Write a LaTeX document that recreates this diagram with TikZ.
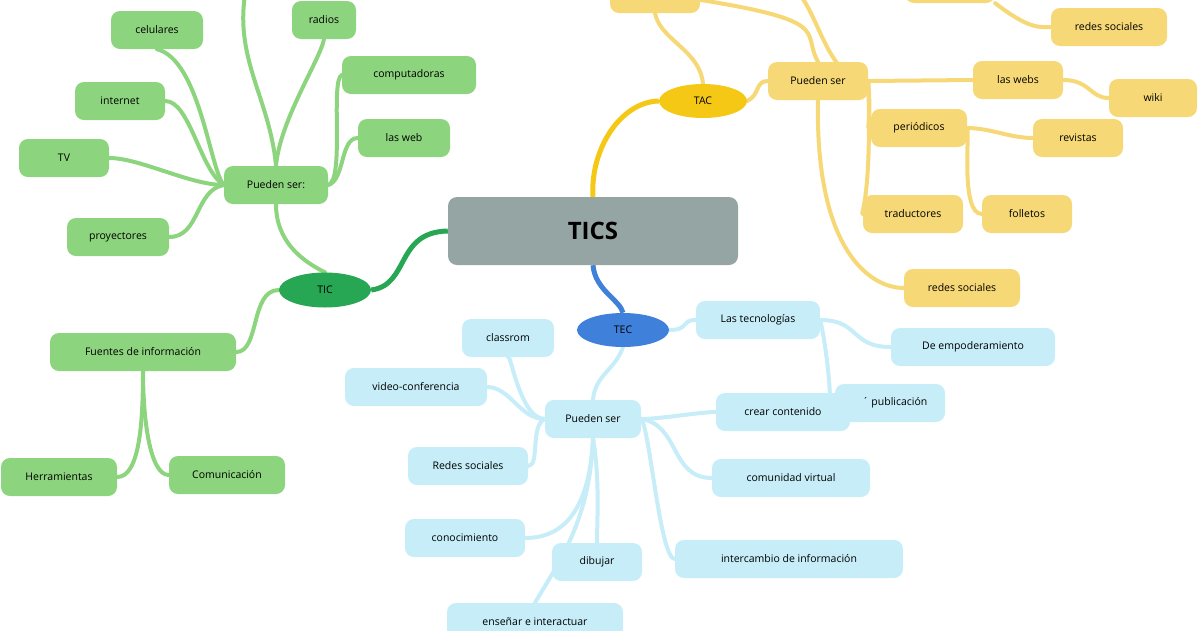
\documentclass[tikz,border=0pt]{standalone}
\usepackage{fontspec}
\setmainfont{Open Sans}
\usetikzlibrary{backgrounds,shapes.geometric}
\definecolor{gbox}{HTML}{8DD47E}
\definecolor{gdark}{HTML}{27A653}
\definecolor{ybox}{HTML}{F6D877}
\definecolor{ydark}{HTML}{F5C816}
\definecolor{bbox}{HTML}{C6EDF8}
\definecolor{bdark}{HTML}{3F80DA}
\definecolor{tics}{HTML}{95A5A4}
\tikzset{
 bx/.style={rounded corners=9pt, minimum height=38pt, inner sep=0pt, font=\fontsize{10.5}{12}\selectfont, text=black},
 gnode/.style={bx, fill=gbox},
 ynode/.style={bx, fill=ybox},
 bnode/.style={bx, fill=bbox},
 el/.style={ellipse, minimum height=35pt, inner sep=0pt, font=\fontsize{10.5}{12}\selectfont},
 ge/.style={line width=4pt, gbox, line cap=round},
 ye/.style={line width=4pt, ybox, line cap=round},
 be/.style={line width=4pt, bbox, line cap=round},
}
\begin{document}
\begin{tikzpicture}[x={(1pt,0pt)},y={(0pt,-1pt)}]
\useasboundingbox (0,0) rectangle (1200,630);
\clip (0,0) rectangle (1200,630);
% center
\node[bx, fill=tics, minimum width=290pt, minimum height=68pt, font=\fontsize{24}{28}\selectfont\bfseries] (tics) at (593,231) {TICS};
% green
\node[el, fill=gdark, minimum width=92pt] (tic) at (325,290) {TIC};
\node[gnode, minimum width=104pt] (pg) at (276,185) {Pueden ser:};
\node[gnode, minimum width=92pt] (cel) at (157,30) {celulares};
\node[gnode, minimum width=64pt] (rad) at (324,20) {radios};
\node[gnode, minimum width=134pt] (comp) at (409,75) {computadoras};
\node[gnode, minimum width=90pt] (int) at (120,101) {internet};
\node[gnode, minimum width=92pt] (web) at (404,138) {las web};
\node[gnode, minimum width=90pt] (tv) at (64,158) {TV};
\node[gnode, minimum width=102pt] (proy) at (118,237) {proyectores};
\node[gnode, minimum width=186pt] (fue) at (143,352) {Fuentes de información};
\node[gnode, minimum width=116pt] (her) at (59,477) {Herramientas};
\node[gnode, minimum width=116pt] (com) at (227,475) {Comunicación};
\coordinate (gtop) at (245,-5);
% yellow
\node[el, fill=ydark, minimum width=88pt, minimum height=34pt] (tac) at (703,101) {TAC};
\node[ynode, minimum width=90pt] (ytl) at (655,-6) {};
\node[ynode, minimum width=90pt] (ytr) at (950,-16) {};
\node[ynode, minimum width=100pt] (py) at (818,81) {Pueden ser};
\node[ynode, minimum width=116pt] (rs1) at (1109,27) {redes sociales};
\node[ynode, minimum width=90pt] (webs) at (1018,80) {las webs};
\node[ynode, minimum width=88pt] (wiki) at (1153,98) {wiki};
\node[ynode, minimum width=96pt] (per) at (919,128) {periódicos};
\node[ynode, minimum width=90pt] (rev) at (1078,138) {revistas};
\node[ynode, minimum width=100pt] (trad) at (913,214) {traductores};
\node[ynode, minimum width=90pt] (fol) at (1027,214) {folletos};
\node[ynode, minimum width=116pt] (rs2) at (962,288) {redes sociales};
\coordinate (ytop) at (800,-5);
\coordinate (ymid) at (668,-5);
% blue
\node[el, fill=bdark, minimum width=92pt, minimum height=34pt] (tec) at (623,330) {TEC};
\node[bnode, minimum width=124pt] (lt) at (758,320) {Las tecnologías};
\node[bnode, minimum width=164pt] (emp) at (973,347) {De empoderamiento};
\node[bnode, minimum width=110pt] (pub) at (890,403) {\hspace*{10pt}´ publicación};
\node[bnode, minimum width=134pt] (crea) at (783,412) {crear contenido};
\node[bnode, minimum width=92pt] (cla) at (508,338) {classrom};
\node[bnode, minimum width=142pt] (vid) at (416,387) {video-conferencia};
\node[bnode, minimum width=96pt] (pb) at (593,419) {Pueden ser};
\node[bnode, minimum width=120pt] (red) at (468,466) {Redes sociales};
\node[bnode, minimum width=158pt] (cv) at (791,478) {comunidad virtual};
\node[bnode, minimum width=120pt] (con) at (465,538) {conocimiento};
\node[bnode, minimum width=90pt] (dib) at (597,562) {dibujar};
\node[bnode, minimum width=228pt] (ii) at (789,559) {intercambio de información};
\node[bnode, minimum width=176pt] (ens) at (535,622) {enseñar e interactuar};
\begin{scope}[on background layer]
% main
\draw[line width=5pt, gdark] (tic.east) .. controls (410,285) and (395,232) .. (tics.west);
\draw[line width=5pt, ydark] (tics.north) .. controls (590,150) and (620,102) .. (tac.west);
\draw[line width=5pt, bdark] (tics.south) .. controls (595,290) and (620,300) .. (tec.north);
% green
\draw[ge] (tic.north) .. controls (300,260) and (276,240) .. (pg.south);
\draw[ge] (tic.west) .. controls (250,290) and (260,352) .. (fue.east);
\draw[ge] (pg.north) .. controls (270,100) and (235,60) .. (gtop);
\draw[ge] (pg.north) .. controls (280,120) and (320,60) .. (rad.south);
\draw[ge] (pg.west) .. controls (210,170) and (200,60) .. (cel.south);
\draw[ge] (pg.west) .. controls (200,170) and (190,101) .. (int.east);
\draw[ge] (pg.west) .. controls (190,185) and (140,158) .. (tv.east);
\draw[ge] (pg.west) .. controls (195,190) and (200,237) .. (proy.east);
\draw[ge] (pg.east) .. controls (345,180) and (330,80) .. (comp.west);
\draw[ge] (pg.east) .. controls (345,180) and (340,138) .. (web.west);
\draw[ge] (fue.south) .. controls (143,420) and (140,477) .. (her.east);
\draw[ge] (fue.south) .. controls (143,420) and (150,475) .. (com.west);
% yellow
\draw[ye] (tac.east) .. controls (760,95) and (755,81) .. (py.west);
\draw[ye] (tac.north) .. controls (700,50) and (660,40) .. (ytl.south);
\draw[ye] (py.north) .. controls (800,30) and (840,20) .. (ymid);
\draw[ye] (py.east) .. controls (830,81) and (820,20) .. (ytop);
\draw[ye] (py.east) -- (webs.west);
\draw[ye] (ytr.south east) .. controls (1030,30) and (1040,27) .. (rs1.west);
\draw[ye] (webs.east) .. controls (1090,80) and (1090,98) .. (wiki.west);
\draw[ye] (py.east) .. controls (872,128) and (865,128) .. (per.west);
\draw[ye] (py.east) .. controls (872,200) and (860,214) .. (trad.west);
\draw[ye] (py.south) .. controls (815,250) and (870,288) .. (rs2.west);
\draw[ye] (per.east) .. controls (990,128) and (1010,138) .. (rev.west);
\draw[ye] (per.east) .. controls (970,130) and (960,214) .. (fol.west);
% blue
\coordinate (ltend) at (830,400);
\draw[be] (tec.east) .. controls (690,330) and (680,320) .. (lt.west);
\draw[be] (tec.south) .. controls (615,370) and (595,375) .. (pb.north);
\draw[be] (lt.east) .. controls (860,320) and (850,347) .. (emp.west);
\draw[be] (lt.east) .. controls (825,340) and (830,380) .. (ltend);
\draw[be] (pb.west) .. controls (520,419) and (510,350) .. (cla.south);
\draw[be] (pb.west) .. controls (520,419) and (510,387) .. (vid.east);
\draw[be] (pb.west) .. controls (530,425) and (540,466) .. (red.east);
\draw[be] (pb.south) .. controls (590,500) and (570,538) .. (con.east);
\draw[be] (pb.south) .. controls (600,480) and (597,520) .. (dib.north);
\draw[be] (pb.south) .. controls (590,520) and (560,560) .. (ens.north);
\draw[be] (pb.east) .. controls (660,419) and (700,412) .. (crea.west);
\draw[be] (pb.east) .. controls (680,425) and (670,478) .. (cv.west);
\draw[be] (pb.east) .. controls (650,430) and (660,559) .. (ii.west);
\end{scope}
\end{tikzpicture}
\end{document}
